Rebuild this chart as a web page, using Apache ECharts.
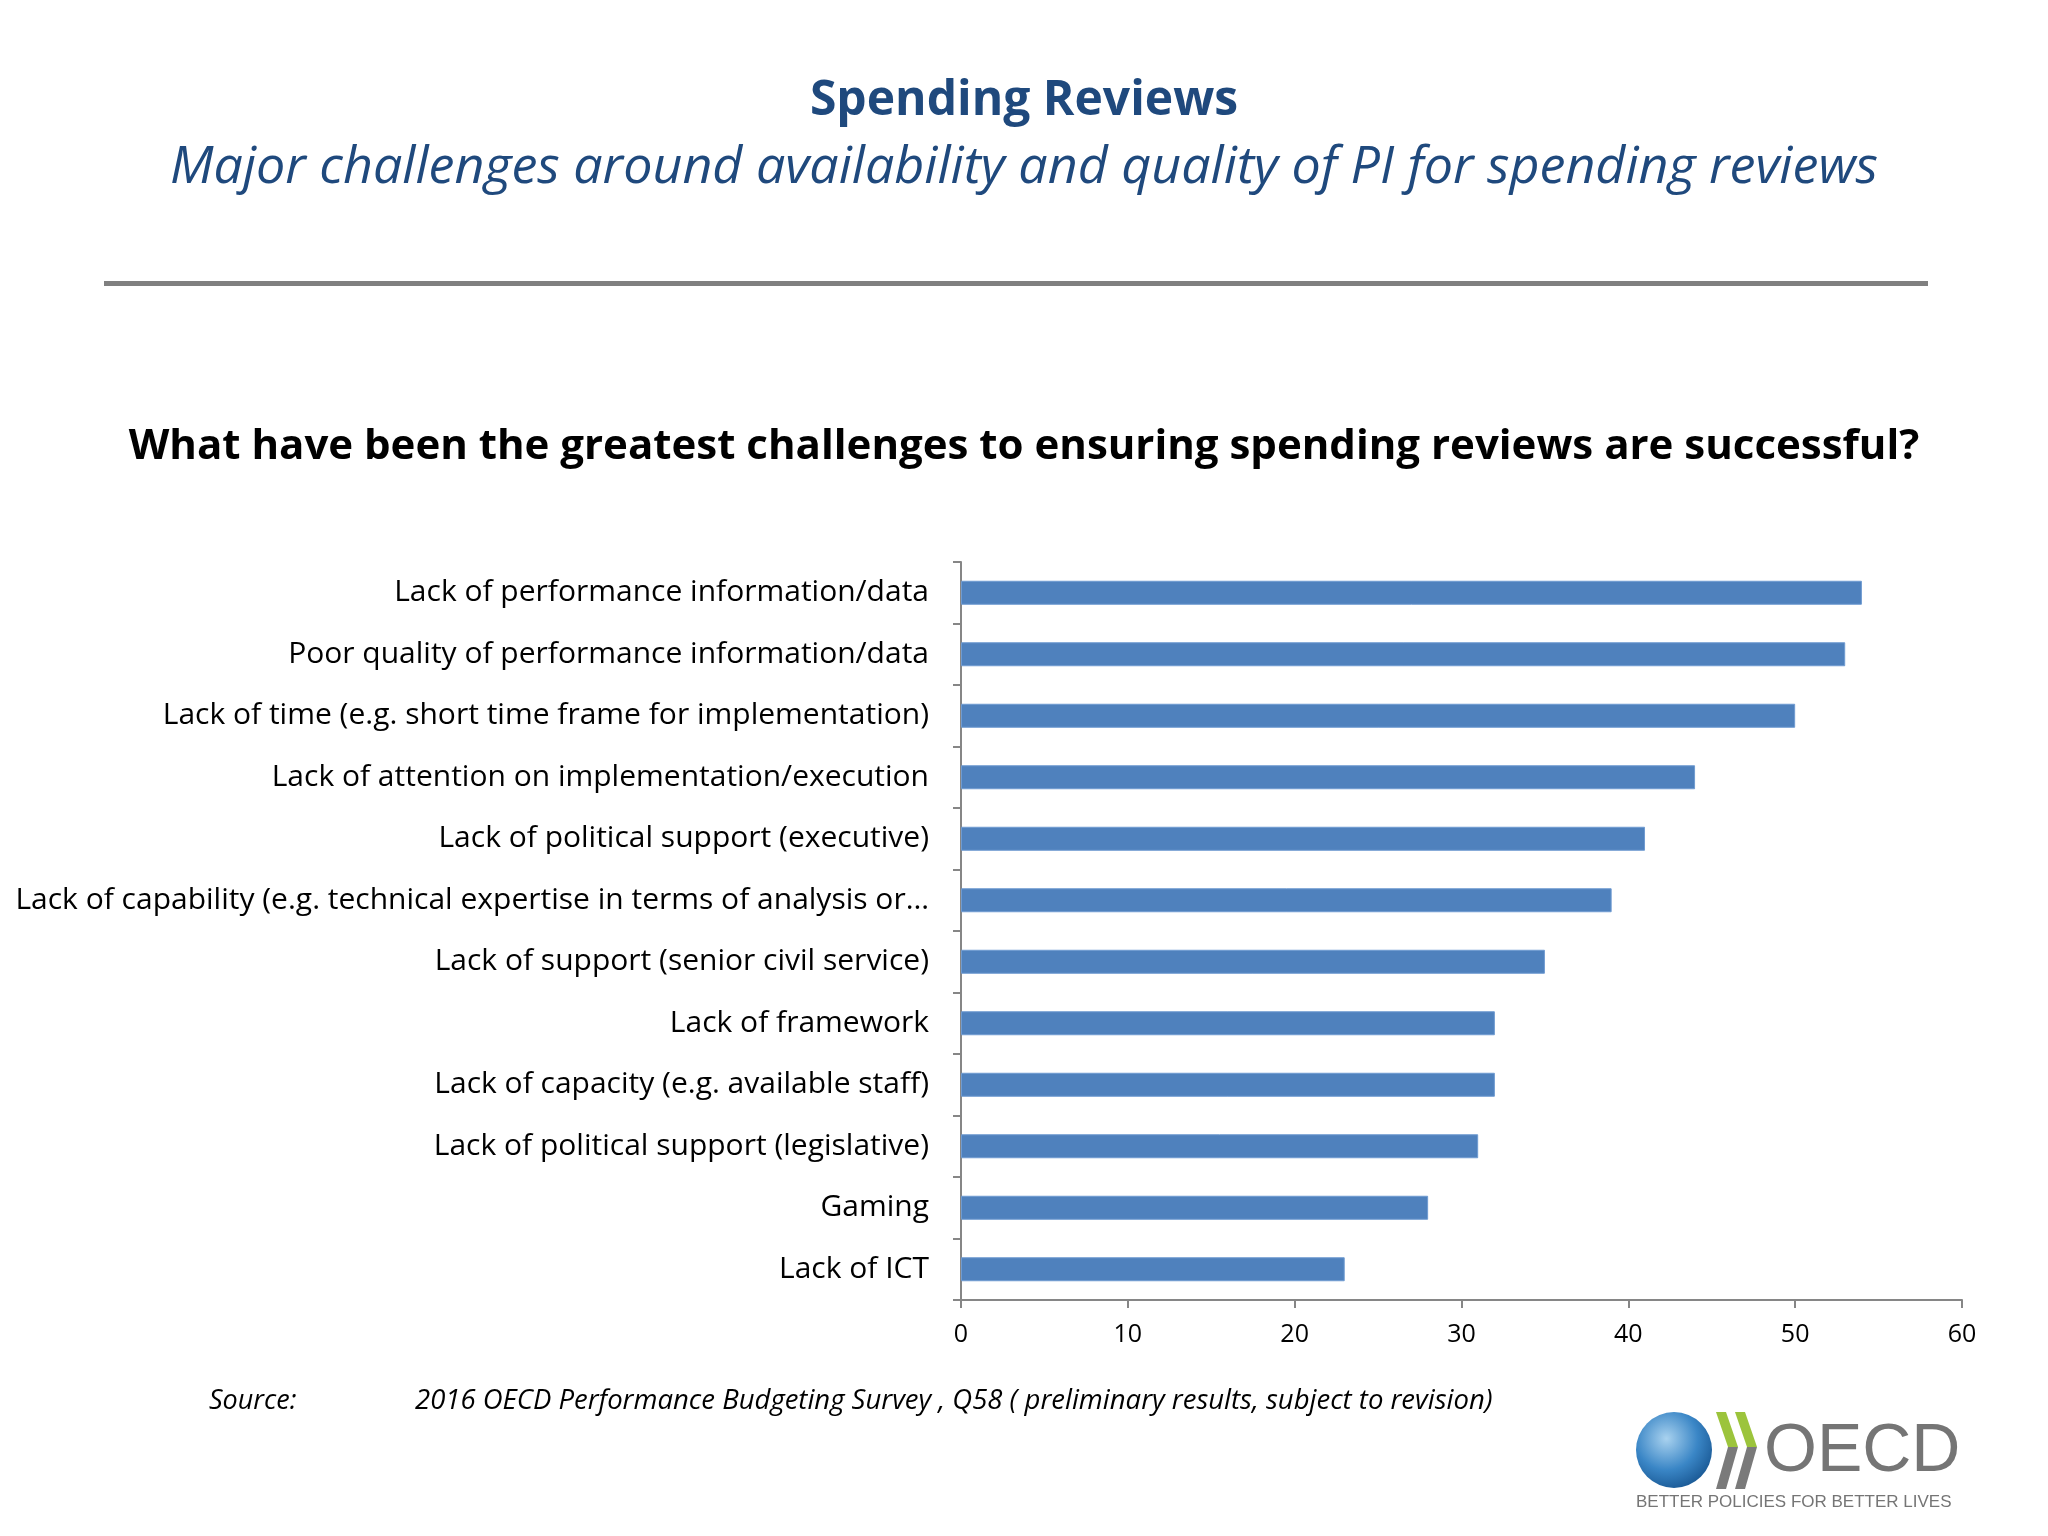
<!DOCTYPE html>
<html>
<head>
<meta charset="utf-8">
<script src="https://cdn.jsdelivr.net/npm/echarts@6/dist/echarts.min.js"></script>
<style>
  html, body { margin: 0; padding: 0; background: #fff; }
  #chart { width: 2048px; height: 1536px; }
</style>
</head>
<body>
<div id="chart"></div>
<script>
// challenges, top to bottom as in the slide
const categories = [
  "Lack of performance information/data",
  "Poor quality of performance information/data",
  "Lack of time (e.g. short time frame for implementation)",
  "Lack of attention on implementation/execution",
  "Lack of political support (executive)",
  "Lack of capability (e.g. technical expertise in terms of analysis or\u2026",
  "Lack of support (senior civil service)",
  "Lack of framework",
  "Lack of capacity (e.g. available staff)",
  "Lack of political support (legislative)",
  "Gaming",
  "Lack of ICT"
];
const values = [54, 53, 50, 44, 41, 39, 35, 32, 32, 31, 28, 23];
const xTicks = [0, 10, 20, 30, 40, 50, 60];

const font = "'Open Sans', 'Noto Sans', sans-serif";
const chart = echarts.init(document.getElementById("chart"));

// chevrons of the logo
function chevron(x0, green) {
  return {
    type: "polygon",
    shape: {
      points: green
        ? [[x0, 1412], [x0 + 10, 1412], [x0 + 22, 1447], [x0 + 12, 1447]]
        : [[x0 + 12, 1447], [x0 + 22, 1447], [x0 + 10, 1489], [x0, 1489]]
    },
    style: { fill: green ? "#9cc43c" : "#7a7a7a" }
  };
}

chart.setOption({
  backgroundColor: "#ffffff",
  textStyle: { fontFamily: font },
  title: [
    {
      text: "Spending Reviews",
      left: "center", top: 72,
      textStyle: { fontFamily: font, fontSize: 48, fontWeight: "bold", color: "#1f497d" }
    },
    {
      text: "Major challenges around availability and quality of PI for spending reviews",
      left: "center", top: 137,
      textStyle: { fontFamily: font, fontSize: 52, fontStyle: "italic", fontWeight: "normal", color: "#1f497d" }
    },
    {
      text: "What have been the greatest challenges to ensuring spending reviews are successful?",
      left: "center", top: 421,
      textStyle: { fontFamily: font, fontSize: 42, fontWeight: "bold", color: "#000" }
    }
  ],
  grid: { left: 961, right: 86, top: 562, bottom: 236, containLabel: false },
  xAxis: {
    type: "value",
    min: xTicks[0],
    max: xTicks[xTicks.length - 1],
    interval: 10,
    splitLine: { show: false },
    axisLine: { show: true, lineStyle: { color: "#868686", width: 2 } },
    axisTick: { show: true, length: 8, lineStyle: { color: "#868686", width: 2 } },
    axisLabel: { fontSize: 25, color: "#000", margin: 22, fontFamily: font }
  },
  yAxis: {
    type: "category",
    data: categories,
    inverse: true,
    axisLine: { show: true, lineStyle: { color: "#868686", width: 2 } },
    axisTick: { show: true, length: 8, alignWithLabel: false, lineStyle: { color: "#868686", width: 2 } },
    axisLabel: { fontSize: 30, color: "#000", margin: 32, fontFamily: font }
  },
  series: [{
    type: "bar",
    data: values,
    barWidth: 24,
    itemStyle: { color: "#4f81bd", borderColor: "#6f9bd1", borderWidth: 1 },
    animation: false
  }],
  graphic: [
    {
      type: "rect",
      shape: { x: 104, y: 281, width: 1824, height: 5 },
      style: { fill: "#808080" }
    },
    {
      type: "text", left: 209, top: 1388,
      style: { text: "Source:", font: "italic 27px " + font, fill: "#000" }
    },
    {
      type: "text", left: 415, top: 1388,
      style: {
        text: "2016 OECD Performance Budgeting Survey , Q58 ( preliminary results, subject to revision)",
        font: "italic 27.5px " + font, fill: "#000"
      }
    },
    // OECD logo
    {
      type: "circle",
      shape: { cx: 1674, cy: 1450, r: 38 },
      style: {
        fill: {
          type: "radial", x: 0.4, y: 0.35, r: 0.75,
          colorStops: [{ offset: 0, color: "#a9d2ef" }, { offset: 0.55, color: "#3a86c6" }, { offset: 1, color: "#134f8a" }]
        }
      }
    },
    chevron(1716, true),
    chevron(1716, false),
    chevron(1735, true),
    chevron(1735, false),
    {
      type: "text", left: 1764, top: 1418,
      style: { text: "OECD", font: "68px 'Liberation Sans', Arial, sans-serif", fill: "#757575" }
    },
    {
      type: "text", left: 1636, top: 1494,
      style: { text: "BETTER POLICIES FOR BETTER LIVES", font: "17px 'Liberation Sans', Arial, sans-serif", fill: "#757575" }
    }
  ]
});
</script>
</body>
</html>
